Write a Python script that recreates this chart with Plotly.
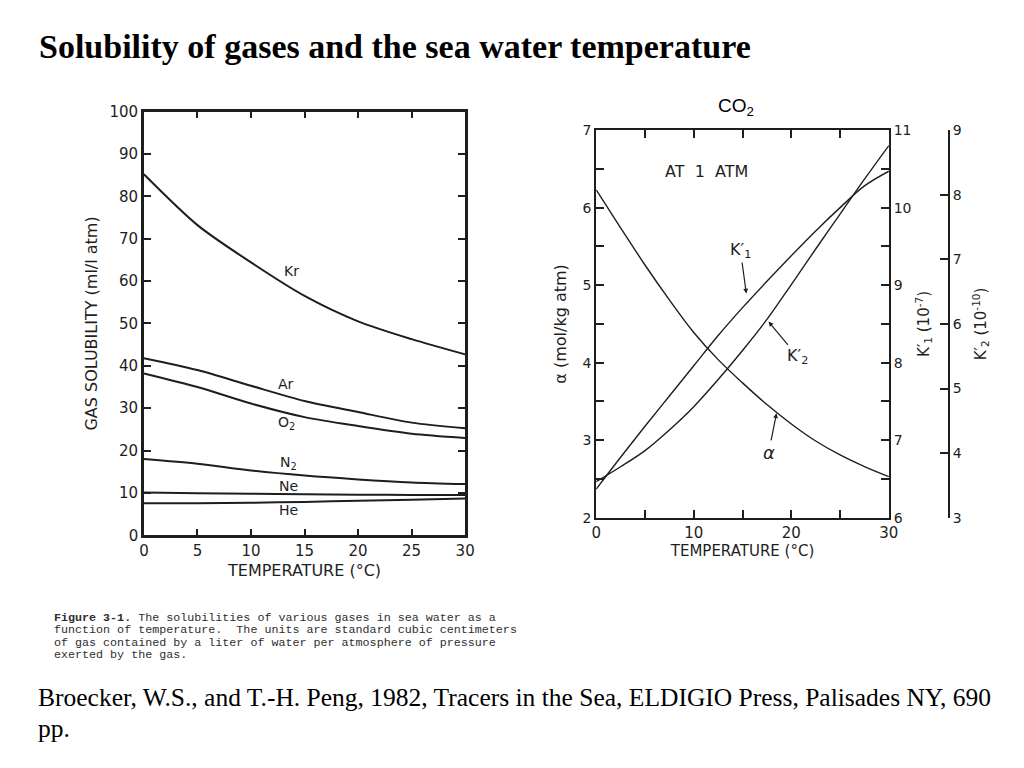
import plotly.graph_objects as go

W, H = 1024, 768

# ---------------- data: left chart (gas solubility, ml/l atm) ----------------
temp_left = [0, 5, 10, 15, 20, 25, 30]
kr = [85.2, 73.2, 64.4, 56.5, 50.5, 46.3, 42.7]
ar = [41.8, 39.0, 35.3, 31.7, 29.1, 26.6, 25.3]
o2 = [38.2, 35.0, 31.1, 27.9, 25.8, 24.0, 23.0]
n2 = [18.0, 16.9, 15.3, 14.1, 13.2, 12.5, 12.1]
ne = [10.1, 9.95, 9.8, 9.7, 9.6, 9.55, 9.5]
he = [7.6, 7.6, 7.7, 7.9, 8.15, 8.4, 8.7]
left_series = [("Kr", kr), ("Ar", ar), ("O<sub>2</sub>", o2), ("N<sub>2</sub>", n2), ("Ne", ne), ("He", he)]
left_label_pos = [(13.8, 62.4), (13.3, 35.6), (13.3, 26.5), (13.5, 17.0), (13.5, 11.6), (13.5, 6.1)]
left_xticks = [0, 5, 10, 15, 20, 25, 30]
left_yticks = [0, 10, 20, 30, 40, 50, 60, 70, 80, 90, 100]

# ---------------- data: right chart (CO2) ----------------
temp_right = [0, 2.5, 5, 7.5, 10, 12.5, 15, 17.5, 20, 22.5, 25, 27.5, 30]
alpha = [6.23, 5.74, 5.26, 4.81, 4.39, 4.04, 3.74, 3.46, 3.21, 2.99, 2.81, 2.66, 2.53]
k1 = [6.37, 6.78, 7.18, 7.57, 7.96, 8.35, 8.71, 9.05, 9.38, 9.70, 10.00, 10.28, 10.47]
k2 = [3.56, 3.79, 4.04, 4.36, 4.72, 5.14, 5.59, 6.07, 6.61, 7.16, 7.70, 8.24, 8.76]
right_xticks = [0, 10, 20, 30]
alpha_ticks = [2, 3, 4, 5, 6, 7]
k1_ticks = [6, 7, 8, 9, 10, 11]
k2_ticks = [3, 4, 5, 6, 7, 8, 9]

caption_lines = [
    "<b>Figure 3-1.</b> The solubilities of various gases in sea water as a",
    "function of temperature.  The units are standard cubic centimeters",
    "of gas contained by a liter of water per atmosphere of pressure",
    "exerted by the gas.",
]


def px(x):
    return x / W


def py(y):
    return 1 - y / H


INK = "#1e1e1e"
SCAN = "DejaVu Sans, Verdana, sans-serif"
SERIF = "Liberation Serif, Times New Roman, serif"

fig = go.Figure()

for name, vals in left_series:
    fig.add_trace(go.Scatter(x=temp_left, y=vals, mode="lines", name=name,
                             line=dict(color=INK, width=2, shape="spline", smoothing=0.8),
                             xaxis="x", yaxis="y", showlegend=False, hoverinfo="skip"))

fig.add_trace(go.Scatter(x=temp_right, y=alpha, mode="lines", line=dict(color=INK, width=1.4, shape="spline"),
                         xaxis="x2", yaxis="y2", showlegend=False))
fig.add_trace(go.Scatter(x=temp_right, y=k1, mode="lines", line=dict(color=INK, width=1.4, shape="spline"),
                         xaxis="x2", yaxis="y3", showlegend=False))
fig.add_trace(go.Scatter(x=temp_right, y=k2, mode="lines", line=dict(color=INK, width=1.4, shape="spline"),
                         xaxis="x2", yaxis="y4", showlegend=False))

axis_common = dict(showgrid=False, zeroline=False, showline=True, linecolor=INK,
                   ticks="inside", tickcolor=INK, color=INK, fixedrange=True)

L_X0, L_X1, L_Y0, L_Y1 = 141, 467, 105, 539
R_X0, R_X1, R_Y0, R_Y1 = 600, 897, 124, 521

minor_half = dict(ticks="inside", dtick=0.5, ticklen=8, tickwidth=2, tickcolor=INK, showgrid=False)

fig.update_layout(
    width=W, height=H, margin=dict(l=0, r=0, t=0, b=0),
    paper_bgcolor="white", plot_bgcolor="rgba(0,0,0,0)",
    xaxis=dict(axis_common, domain=[px(L_X0), px(L_X1)], range=[0, 30], anchor="y",
               tickvals=left_xticks, ticklen=7, tickwidth=2, linewidth=2.5, mirror="ticks",
               tickfont=dict(family=SCAN, size=15),
               title=dict(text="TEMPERATURE (°C)", font=dict(family=SCAN, size=16), standoff=6)),
    yaxis=dict(axis_common, domain=[py(L_Y1), py(L_Y0)], range=[0, 100], anchor="x",
               tickvals=left_yticks, ticklen=7, tickwidth=2, linewidth=2.5, mirror="ticks",
               tickfont=dict(family=SCAN, size=15),
               title=dict(text="GAS SOLUBILITY (ml/l atm)", font=dict(family=SCAN, size=16), standoff=8)),
    xaxis2=dict(axis_common, domain=[px(R_X0), px(R_X1)], range=[0, 30], anchor="y2",
                tickvals=right_xticks, ticklen=8, tickwidth=2, linewidth=2,
                minor=dict(ticks="inside", tickvals=[5, 15, 25], ticklen=8, tickwidth=2, tickcolor=INK, showgrid=False),
                mirror="ticks", tickfont=dict(family=SCAN, size=15),
                title=dict(text="TEMPERATURE (°C)", font=dict(family=SCAN, size=15), standoff=3)),
    yaxis2=dict(axis_common, domain=[py(R_Y1), py(R_Y0)], range=[2, 7], anchor="x2",
                tickvals=alpha_ticks, ticklen=8, tickwidth=2, linewidth=2, minor=minor_half,
                tickfont=dict(family=SCAN, size=14),
                title=dict(text="α (mol/kg atm)", font=dict(family=SCAN, size=16), standoff=12)),
    yaxis3=dict(axis_common, range=[6, 11], overlaying="y2", side="right", anchor="x2",
                tickvals=k1_ticks, ticklen=8, tickwidth=2, linewidth=2, minor=minor_half,
                tickfont=dict(family=SCAN, size=14),
                title=dict(text="K′<sub>1</sub> (10<sup>-7</sup>)", font=dict(family=SCAN, size=15), standoff=8)),
    yaxis4=dict(axis_common, range=[3, 9], overlaying="y2", side="right", anchor="free",
                position=px(958), tickvals=k2_ticks, ticklen=8, tickwidth=2, linewidth=2,
                tickfont=dict(family=SCAN, size=14),
                title=dict(text="K′<sub>2</sub> (10<sup>-10</sup>)", font=dict(family=SCAN, size=15), standoff=14)),
)

ann = []
# page title
ann.append(dict(x=px(32), y=py(38), xref="paper", yref="paper", xanchor="left", yanchor="middle",
                text="<b>Solubility of gases and the sea water temperature</b>", showarrow=False,
                font=dict(family=SERIF, size=34, color="black")))
# CO2 header
ann.append(dict(x=px(742), y=py(100), xref="paper", yref="paper", xanchor="center", yanchor="middle",
                text="CO<sub>2</sub>", showarrow=False,
                font=dict(family="Liberation Sans, Arial, sans-serif", size=19, color="black")))
# citation
ann.append(dict(x=px(31), y=py(705), xref="paper", yref="paper", xanchor="left", yanchor="middle",
                text="Broecker, W.S., and T.-H. Peng, 1982, Tracers in the Sea, ELDIGIO Press, Palisades NY, 690",
                showarrow=False, font=dict(family=SERIF, size=25.5, color="black")))
ann.append(dict(x=px(31), y=py(737), xref="paper", yref="paper", xanchor="left", yanchor="middle",
                text="pp.", showarrow=False, font=dict(family=SERIF, size=25.5, color="black")))
# typewriter caption
for i, line in enumerate(caption_lines):
    ann.append(dict(x=px(48), y=py(624 + i * 12.4), xref="paper", yref="paper", xanchor="left", yanchor="middle",
                    text=line, showarrow=False,
                    font=dict(family="Liberation Mono, Courier New, monospace", size=11.7, color="#2e2e2e")))
# left curve labels
for (name, _), (lx, ly) in zip(left_series, left_label_pos):
    ann.append(dict(x=lx, y=ly, xref="x", yref="y", text=name, showarrow=False,
                    font=dict(family=SCAN, size=14, color=INK)))
# right chart labels
ann.append(dict(x=11.3, y=6.47, xref="x2", yref="y2", text="AT\u00a0\u00a01\u00a0\u00a0ATM", showarrow=False,
                font=dict(family=SCAN, size=16, color=INK)))
ann.append(dict(x=15.4, y=4.88, xref="x2", yref="y2", text="K′<sub>1</sub>", showarrow=True,
                ax=-6, ay=-44, arrowhead=2, arrowsize=0.8, arrowwidth=1.2, arrowcolor=INK, standoff=1,
                font=dict(family=SCAN, size=16, color=INK)))
ann.append(dict(x=17.6, y=4.54, xref="x2", yref="y2", text="K′<sub>2</sub>", showarrow=True,
                ax=30, ay=36, arrowhead=2, arrowsize=0.8, arrowwidth=1.2, arrowcolor=INK, standoff=1,
                font=dict(family=SCAN, size=16, color=INK)))
ann.append(dict(x=18.5, y=3.36, xref="x2", yref="y2", text="<i>α</i>", showarrow=True,
                ax=-8, ay=40, arrowhead=2, arrowsize=0.8, arrowwidth=1.2, arrowcolor=INK, standoff=1,
                font=dict(family=SCAN, size=18, color=INK)))
fig.update_layout(annotations=ann)

fig.write_html("out.html")
